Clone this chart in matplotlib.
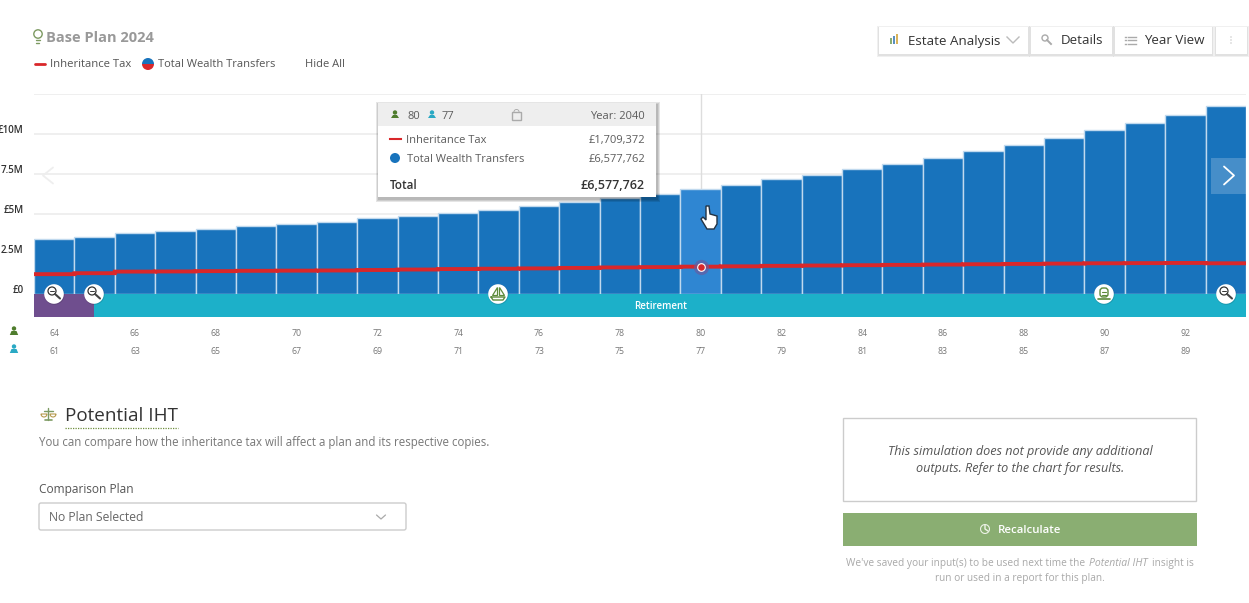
import matplotlib
matplotlib.use('Agg')
import matplotlib.pyplot as plt
from matplotlib.patches import Rectangle, FancyBboxPatch, Circle, Wedge, Polygon
from matplotlib.transforms import ScaledTranslation

plt.rcParams['font.family'] = ['Open Sans', 'DejaVu Sans']

# ---- data ----
age_a = list(range(64, 94))
age_b = list(range(61, 91))
wealth_transfers = [3.44, 3.54, 3.83, 3.96, 4.04, 4.25, 4.39, 4.52, 4.72, 4.89,
                    5.08, 5.27, 5.50, 5.75, 6.00, 6.25, 6.578, 6.81, 7.16, 7.44,
                    7.79, 8.12, 8.50, 8.92, 9.33, 9.77, 10.23, 10.71, 11.21, 11.77]
inheritance_tax = [1.24, 1.30, 1.40, 1.41, 1.43, 1.45, 1.46, 1.47, 1.50, 1.53,
                   1.56, 1.58, 1.60, 1.63, 1.66, 1.68, 1.709, 1.73, 1.76, 1.78,
                   1.80, 1.82, 1.84, 1.86, 1.88, 1.90, 1.92, 1.93, 1.94, 1.92]
y_ticks = [0, 2.5, 5, 7.5, 10, 12.5]
y_labels = ['£0', '2.5M', '£5M', '7.5M', '£10M', '']
hover_index = 16

W, H = 1249, 603
BLUE, HOVER, RED = '#1873bc', '#2f86d2', '#d9272a'
TEAL, PURPLE, GREEN = '#1cb0c9', '#6f4e8e', '#8aae72'
DARK, MID, LIGHT = '#333333', '#5c5c5c', '#a8a8a8'

fig = plt.figure(figsize=(W / 100, H / 100), dpi=100, facecolor='white')

# ---- chart ----
ax = fig.add_axes([34 / W, 1 - 294 / H, 1212 / W, 200 / H])
ax.set_xlim(-0.5, 29.5)
ax.set_ylim(0, 12.5)
for s in ax.spines.values():
    s.set_visible(False)
ax.tick_params(axis='y', length=0, pad=7.5)
ax.set_yticks(y_ticks)
ax.set_yticklabels(y_labels, fontsize=7.0, color='#333333', fontweight='semibold')
up = ScaledTranslation(0, 5 / 100, fig.dpi_scale_trans)
for tick in ax.yaxis.get_major_ticks():
    tick.label1.set_transform(tick.label1.get_transform() + up)
ax.grid(axis='y', color='#eeeeee', lw=1.3, zorder=0)
ax.set_axisbelow(True)
idx = list(range(len(age_a)))
ax.tick_params(axis='x', length=0, pad=25.3)
ax.set_xticks(idx[::2])
ax.set_xticklabels([f'{a}\n{b}' for a, b in zip(age_a[::2], age_b[::2])],
                   fontsize=6.3, color='#777777', linespacing=2.33)
ax.axvline(hover_index, color='#dddddd', lw=1, zorder=1)
colors = [HOVER if i == hover_index else BLUE for i in idx]
ax.bar(idx, wealth_transfers, width=1.0, color=colors, edgecolor='#c0d9ee',
       linewidth=1.0, zorder=2)
edges = [i - 0.5 for i in idx] + [idx[-1] + 0.5]
ax.stairs(inheritance_tax, edges, baseline=None, color=RED, lw=2.8, zorder=3, snap=False)
ax.plot([hover_index], [inheritance_tax[hover_index]], 'o', ms=11,
        color='#6a5a9e', alpha=0.65, mew=0, zorder=4)
ax.plot([hover_index], [inheritance_tax[hover_index]], 'o', ms=5.5,
        mfc=RED, mec='white', mew=0.8, zorder=5)

# ---- page furniture, in pixel coordinates ----
ui = fig.add_axes([0, 0, 1, 1], facecolor='none')
ui.set_xlim(0, W)
ui.set_ylim(H, 0)
ui.axis('off')


def T(x, y, s, size=8, color=DARK, ha='left', va='center', **kw):
    return ui.text(x, y + 1.2, s, fontsize=size, color=color, ha=ha, va=va, **kw)


def R(x0, y0, x1, y1, **kw):
    kw.setdefault('lw', 0)
    p = Rectangle((x0, y0), x1 - x0, y1 - y0, **kw)
    ui.add_patch(p)
    return p


def L(xs, ys, color=DARK, lw=1, **kw):
    ui.plot(xs, ys, color=color, lw=lw, solid_capstyle='round', **kw)


def shadow(x0, y0, x1, y1, dx, dy, layers, alpha, zorder):
    for k in range(layers, 0, -1):
        R(x0 + dx - k, y0 + dy - k, x1 + dx + k, y1 + dy + k, color='black', alpha=alpha, zorder=zorder)


def person(x, y, color):
    ui.add_patch(Circle((x, y - 2.5), 2.2, color=color, lw=0))
    ui.add_patch(Polygon([(x - 4.2, y + 4), (x - 2.5, y), (x + 2.5, y), (x + 4.2, y + 4)],
                         color=color, lw=0))


def badge(x, y):
    ui.add_patch(Circle((x + 0.3, y + 0.5), 10.3, color='#00000022', lw=0, zorder=5))
    ui.add_patch(Circle((x, y), 9.8, color='white', lw=0, zorder=6))


def magnifier(x, y):
    badge(x, y)
    ui.add_patch(Circle((x - 2, y - 3), 4, fc='white', ec='#333333', lw=0.9, zorder=7))
    L([x - 4, x], [y - 3, y - 3], '#333333', 0.7, zorder=7)
    L([x + 1, x + 6], [y, y + 4.5], '#444444', 1.5, zorder=7)


def chevron(x, y, w, h, color, lw=1, direction='down'):
    if direction == 'down':
        L([x - w, x, x + w], [y - h, y + h, y - h], color, lw)
    elif direction == 'right':
        L([x - h, x + h, x - h], [y - w, y, y + w], color, lw)
    else:
        L([x + h, x - h, x + h], [y - w, y, y + w], color, lw)


# timeline band
R(34, 294, 94, 317, color=PURPLE)
R(94, 294, 1246, 317, color=TEAL)
T(661, 305.5, 'Retirement', 7, 'white', ha='center', fontweight='semibold')
for mx in (54, 94, 1226):
    magnifier(mx, 294)
badge(498, 294)
L([491, 505, 503, 493, 491], [297, 297, 300, 300, 297], '#5c8a3a', 1, zorder=7)
ui.add_patch(Polygon([(497, 287), (497, 295), (492, 295)], fc='white', ec='#5c8a3a', lw=0.9, zorder=7))
ui.add_patch(Polygon([(499, 287), (499, 295), (504, 295)], fc='white', ec='#5c8a3a', lw=0.9, zorder=7))
badge(1104, 294)
ui.add_patch(FancyBboxPatch((1100, 288), 8, 9, boxstyle='round,pad=0,rounding_size=3',
                            fc='white', ec='#5c8a3a', lw=1, zorder=7))
L([1098, 1110], [299, 299], '#5c8a3a', 1.2, zorder=7)
L([1102, 1106], [292, 292], '#5c8a3a', 0.8, zorder=7)
L([1102, 1106], [295, 295], '#5c8a3a', 0.8, zorder=7)

person(14, 331, '#4f7d2d')
person(14, 349, '#2aa9c4')

# nav arrows
R(1211, 158, 1246, 194, color='white', alpha=0.2)
chevron(1229, 175.5, 9, 5, 'white', 1.3, 'right')
chevron(48, 175.5, 8, 5, '#eeeeee', 1.3, 'left')

# header
ui.add_patch(Circle((38, 34), 4.2, fc='white', ec='#7d9a62', lw=1))
L([36, 40], [40, 40], '#7d9a62', 1)
L([36.5, 39.5], [42.5, 42.5], '#7d9a62', 1)
T(46, 36.5, 'Base Plan 2024', 10.5, '#999999', fontweight='bold')
L([35, 45], [64, 64], RED, 2)
T(50, 63.5, 'Inheritance Tax', 8.1, '#555555')
ui.add_patch(Wedge((148, 64), 6, 0, 180, color=RED, lw=0))
ui.add_patch(Wedge((148, 64), 6, 180, 360, color=BLUE, lw=0))
T(158, 63.5, 'Total Wealth Transfers', 8.05, '#555555')
T(305, 63.5, 'Hide All', 8, '#555555')


def button(x0, x1, y0=27, y1=54):
    shadow(x0, y0, x1, y1, 0, 1, 2, 0.06, 1)
    R(x0, y0, x1, y1, color='white', zorder=2)


button(879, 1028)
button(1031, 1112)
button(1115, 1212)
button(1216, 1247)
for bx, by, col in ((890, 38, GREEN), (893, 36, '#5a8fc0'), (896, 34, '#d9b45a')):
    R(bx, by, bx + 2, 44, color=col, zorder=3)
T(908, 39.8, 'Estate Analysis', 9.6, DARK, zorder=3)
ui.plot([1007, 1013, 1019], [37, 43, 37], color='#bbbbbb', lw=1, zorder=3)
ui.add_patch(Circle((1045, 38), 3, fc='none', ec='#aaaaaa', lw=1, zorder=3))
ui.plot([1047, 1051], [40, 44], color='#aaaaaa', lw=1.4, zorder=3)
T(1061, 39.8, 'Details', 9.6, DARK, zorder=3)
for ly in (36.5, 40, 43.5):
    ui.plot([1125, 1126.5], [ly, ly], color='#aaaaaa', lw=1, zorder=3)
    ui.plot([1128, 1136], [ly, ly], color='#aaaaaa', lw=1, zorder=3)
T(1144, 39.8, 'Year View', 9.6, DARK, zorder=3)
for dy in (37, 40, 43):
    ui.add_patch(Circle((1231, dy), 0.6, color='#aaaaaa', lw=0, zorder=3))

# tooltip
shadow(378, 103, 656, 197, 1, 2, 3, 0.1, 8)
R(378, 103, 656, 197, color='white', zorder=9)
R(378, 103, 656, 126, color='#eeeeee', zorder=10)
Z = dict(zorder=11)
ui.add_patch(Circle((395, 112.5), 2.2, color='#4f7d2d', lw=0, **Z))
ui.add_patch(Polygon([(391, 118), (393, 115), (397, 115), (399, 118)], color='#4f7d2d', lw=0, **Z))
T(408, 115, '80', 8, MID, **Z)
ui.add_patch(Circle((432, 112.5), 2.2, color='#2aa9c4', lw=0, **Z))
ui.add_patch(Polygon([(428, 118), (430, 115), (434, 115), (436, 118)], color='#2aa9c4', lw=0, **Z))
T(442, 115, '77', 8, MID, **Z)
ui.add_patch(Rectangle((512, 112), 9, 8, fc='none', ec='#aaaaaa', lw=1, **Z))
ui.add_patch(Wedge((516.5, 112), 3, 180, 360, width=0.9, color='#aaaaaa', lw=0, **Z))
T(645, 115, 'Year: 2040', 8, MID, ha='right', **Z)
ui.plot([390, 401], [139, 139], color=RED, lw=1.5, **Z)
T(406, 139.3, 'Inheritance Tax', 8, MID, **Z)
T(645, 139.3, '£1,709,372', 8, MID, ha='right', **Z)
ui.add_patch(Circle((395, 158), 5, color=BLUE, lw=0, **Z))
T(407, 158.3, 'Total Wealth Transfers', 8, MID, **Z)
T(645, 158.3, '£6,577,762', 8, MID, ha='right', **Z)
T(390, 184, 'Total', 8.4, DARK, fontweight='semibold', **Z)
T(645, 184, '£6,577,762', 9, DARK, ha='right', fontweight='semibold', **Z)

# cursor
ui.add_patch(Polygon([(706, 206), (709, 206), (710, 214), (717, 216), (717, 224), (714, 229),
                      (707, 229), (701, 219), (703, 217), (706, 220)],
                     fc='white', ec='#223344', lw=1, zorder=12))

# lower left panel
L([44, 53], [411, 411], '#7d9a62', 1)
L([48.5, 48.5], [408, 420], '#7d9a62', 1)
L([45, 52], [420, 420], '#7d9a62', 1.2)
ui.add_patch(Wedge((44, 414), 3, 0, 180, fc='none', ec='#b79a4e', lw=0.8))
ui.add_patch(Wedge((53, 414), 3, 0, 180, fc='none', ec='#b79a4e', lw=0.8))
T(65.5, 414.5, 'Potential IHT', 13.6, '#333333', fontweight='medium')
ui.plot([65, 178], [428, 428], color='#6f8f3f', lw=0.9, ls=(0, (1, 1)))
T(39, 441, 'You can compare how the inheritance tax will affect a plan and its respective copies.',
  8.3, '#777777')
T(39, 488, 'Comparison Plan', 8.6, '#555555')
ui.add_patch(FancyBboxPatch((39, 503), 367, 27, boxstyle='round,pad=0,rounding_size=2',
                            fc='white', ec='#cccccc', lw=1))
T(49, 516, 'No Plan Selected', 8.7, '#666666')
chevron(381, 517, 4.5, 2, '#aaaaaa', 0.9)

# lower right panel
R(843.5, 417.5, 1196.5, 500.5, fc='white', ec='#cccccc', lw=1)
T(1020, 450, 'This simulation does not provide any additional', 9.1, '#555555', ha='center', style='italic')
T(1020, 467, 'outputs. Refer to the chart for results.', 9.1, '#555555', ha='center', style='italic')
R(843, 513, 1197, 546, color=GREEN)
ui.add_patch(Wedge((985, 529), 5, 30, 390, width=1.1, color='#eef3e8', lw=0))
L([985, 985, 988], [525, 529, 531], '#eef3e8', 1)
T(998, 529, 'Recalculate', 8.2, 'white', fontweight='semibold')
T(846, 562.5, "We've saved your input(s) to be used next time the", 7.3, LIGHT)
T(1089, 562.5, 'Potential IHT', 7.5, LIGHT, style='italic')
T(1194, 562.5, 'insight is', 7.3, LIGHT, ha='right')
T(1020, 577.5, 'run or used in a report for this plan.', 7.3, LIGHT, ha='center')

fig.savefig('out.png', dpi=100, facecolor='white')
